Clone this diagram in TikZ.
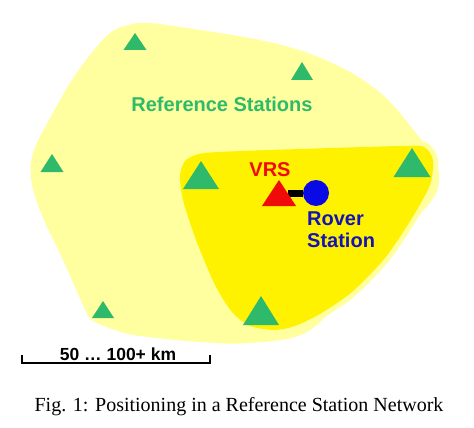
\documentclass[tikz,border=0pt]{standalone}
\usepackage{fontspec}
\setmainfont{Liberation Serif}
\setsansfont{Liberation Sans}
\usetikzlibrary{calc}
\begin{document}
\begin{tikzpicture}[x=1pt,y=-1pt,
  lbl/.style={font=\sffamily\bfseries\fontsize{20}{22}\selectfont, inner sep=0pt},
]
\definecolor{paleyel}{RGB}{255,255,160}
\definecolor{stgreen}{RGB}{46,186,106}
\definecolor{vrsred}{RGB}{240,10,10}
\definecolor{rovblue}{RGB}{10,10,230}
\definecolor{txtblue}{RGB}{20,20,180}
\useasboundingbox (0,0) rectangle (474,428);
\fill[white] (0,0) rectangle (474,428);
\newcommand\stri[5]{\fill[#1] ({#2-#4/2},#3) -- ({#2+#4/2},#3) -- (#2,{#3-#5}) -- cycle;}
% outer region
\fill[paleyel] plot[smooth cycle, tension=0.6] coordinates {
 (150,23) (200,30) (260,40) (305,52) (350,72) (385,97) (412,128) (432,155) (439,175)
 (432,200) (390,245) (345,295) (305,333) (250,343) (200,342) (140,336) (115,330)
 (92,320) (83,305) (63,260) (41,213) (31,178) (34,150) (53,113) (70,83) (90,55) (110,33) (128,25)};
% inner region rim
\filldraw[paleyel, line width=10pt, line join=round] plot[smooth cycle, tension=0.45] coordinates {
 (186,160) (205,153) (270,150) (400,146) (424,147) (433,160) (430,185) (412,218)
 (385,258) (352,292) (320,314) (295,326) (275,330) (250,326) (232,312) (215,285) (196,240) (183,200) (180,175)};
\fill[yellow] plot[smooth cycle, tension=0.45] coordinates {
 (186,160) (205,153) (270,150) (400,146) (424,147) (433,160) (430,185) (412,218)
 (385,258) (352,292) (320,314) (295,326) (275,330) (250,326) (232,312) (215,285) (196,240) (183,200) (180,175)};
% reference stations
\stri{stgreen}{135}{50}{23}{17}
\stri{stgreen}{302}{80}{22}{18}
\stri{stgreen}{52}{172}{23}{18}
\stri{stgreen}{201}{189}{36}{28}
\stri{stgreen}{412}{177}{37}{29}
\stri{stgreen}{103}{318}{22}{17}
\stri{stgreen}{261}{325}{36}{29}
% VRS and rover
\coordinate (vrs) at (288,193);
\node[circle, fill=rovblue, minimum size=26pt, inner sep=0pt] (rover) at (316,193) {};
\draw[line width=7pt] (vrs) -- (rover.west);
\stri{vrsred}{279}{206}{34}{26}
% labels
\node[lbl, text=stgreen, anchor=base] (reflbl) at (222,111) {Reference Stations};
\node[lbl, text=vrsred, anchor=base] (vrslbl) at (270,176) {VRS};
\node[lbl, text=txtblue, anchor=base west] (rovlbl1) at (307,225) {Rover};
\node[lbl, text=txtblue, anchor=base west] (rovlbl2) at (307,247) {Station};
% scale bar
\coordinate (sbl) at (22,355);
\coordinate (sbr) at (210,355);
\draw[line width=2pt, line join=miter] (sbl) -- ++(0,8) -- ($(sbr)+(0,8)$) -- (sbr);
\node[font=\sffamily\bfseries\fontsize{17.5}{20}\selectfont, inner sep=0pt, anchor=base] (scalelbl) at (118,360) {50 … 100+ km};
% caption
\node[font=\fontsize{20}{22}\selectfont, inner sep=0pt, anchor=base] (caption) at (239,411) {Fig. 1: Positioning in a Reference Station Network};
\end{tikzpicture}
\end{document}
